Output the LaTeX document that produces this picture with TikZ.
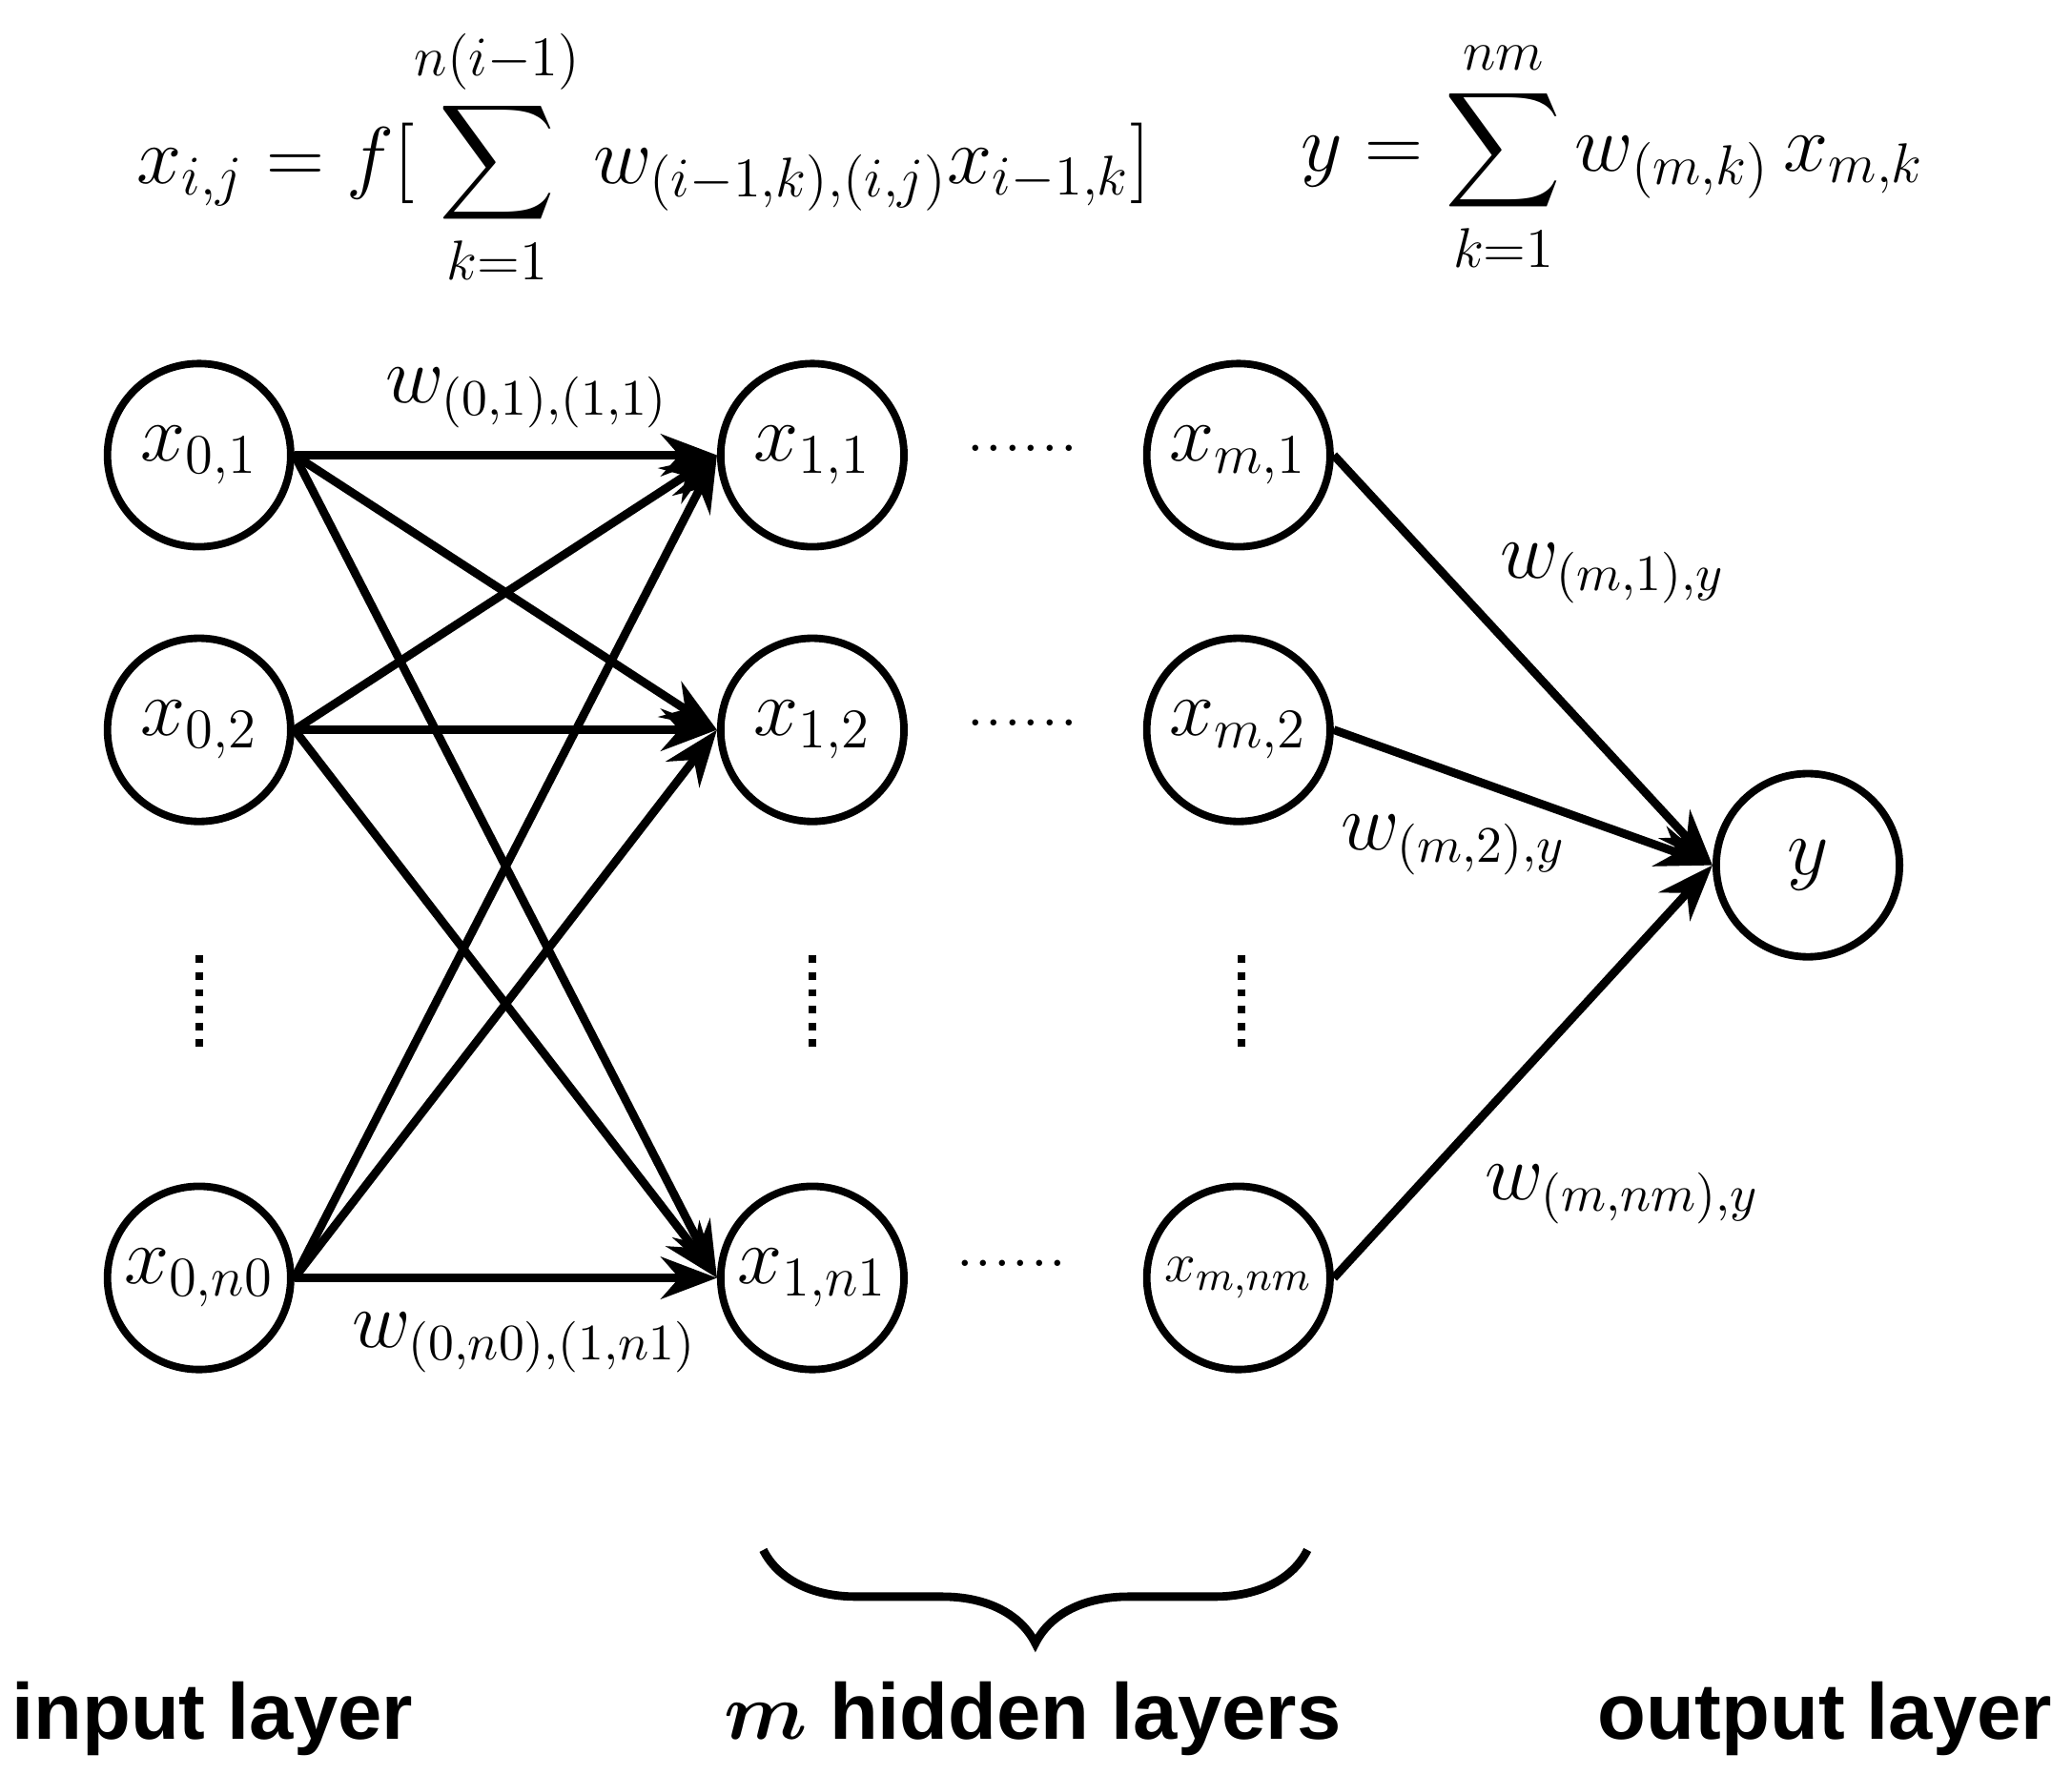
\documentclass[tikz,border=0pt]{standalone}
\usepackage{fontspec}
\setsansfont{Liberation Sans}
\usepackage{amsmath}
\usetikzlibrary{decorations.pathreplacing,arrows.meta}
\begin{document}
\begin{tikzpicture}[x=0.01cm,y=-0.01cm,
  nd/.style={circle,draw,line width=1.6pt,minimum size=1.38cm,inner sep=0pt,font=\fontsize{17}{20}\selectfont},
  ed/.style={line width=1.8pt,-{Stealth[length=12pt,width=9pt]}},
  lb/.style={font=\fontsize{16}{19}\selectfont},
  bl/.style={font=\fontsize{17}{20}\selectfont\sffamily\bfseries}]
\useasboundingbox (0,0) rectangle (1561,1337);
\node[nd] (a1) at (150,343) {$x_{0,1}$};
\node[nd] (a2) at (150,550) {$x_{0,2}$};
\node[nd] (a3) at (150,963) {$x_{0,n0}$};
\node[nd] (b1) at (612,343) {$x_{1,1}$};
\node[nd] (b2) at (612,550) {$x_{1,2}$};
\node[nd] (b3) at (612,963) {$x_{1,n1}$};
\node[nd] (c1) at (933,343) {$x_{m,1}$};
\node[nd] (c2) at (933,550) {$x_{m,2}$};
\node[nd,font=\fontsize{13}{16}\selectfont] (c3) at (933,963) {$x_{m,nm}$};
\node[nd] (y) at (1362,652) {$y$};
\foreach \i in {1,2,3}{\foreach \j in {1,2,3}{\draw[ed] (a\i.east) -- (b\j.west);}}
\draw[ed] (c1.east) -- (y.west);
\draw[ed] (c2.east) -- (y.west);
\draw[ed] (c3.east) -- (y.west);
\foreach \x in {150,612,935}{\draw[line width=1.6pt,dotted] (\x,720) -- (\x,795);}
\node[lb] (d1) at (770,338) {......};
\node[lb] (d2) at (770,545) {......};
\node[lb] (d3) at (762,952) {......};
\node[lb] (l1) at (397,300) {$w_{(0,1),(1,1)}$};
\node[lb] (l2) at (395,1012) {$w_{(0,n0),(1,n1)}$};
\node[lb] (l3) at (1215,432) {$w_{(m,1),y}$};
\node[lb] (l4) at (1095,637) {$w_{(m,2),y}$};
\node[lb] (l5) at (1222,900) {$w_{(m,nm),y}$};
\node[font=\fontsize{17}{20}\selectfont] (f1) at (485,118) {$x_{i,j}=f[\displaystyle\sum_{k=1}^{n(i-1)} w_{(i-1,k),(i,j)}x_{i-1,k}]$};
\node[font=\fontsize{17}{20}\selectfont] (f2) at (1215,118) {$y=\displaystyle\sum_{k=1}^{nm} w_{(m,k)}\,x_{m,k}$};
\draw[line width=1.8pt,decorate,decoration={brace,mirror,amplitude=20pt}] (575,1168) -- (985,1168);
\node[bl] (t1) at (160,1295) {input layer};
\node[bl] (t2) at (778,1295) {$\boldsymbol{m}$ hidden layers};
\node[bl] (t3) at (1375,1295) {output layer};
\end{tikzpicture}
\end{document}
